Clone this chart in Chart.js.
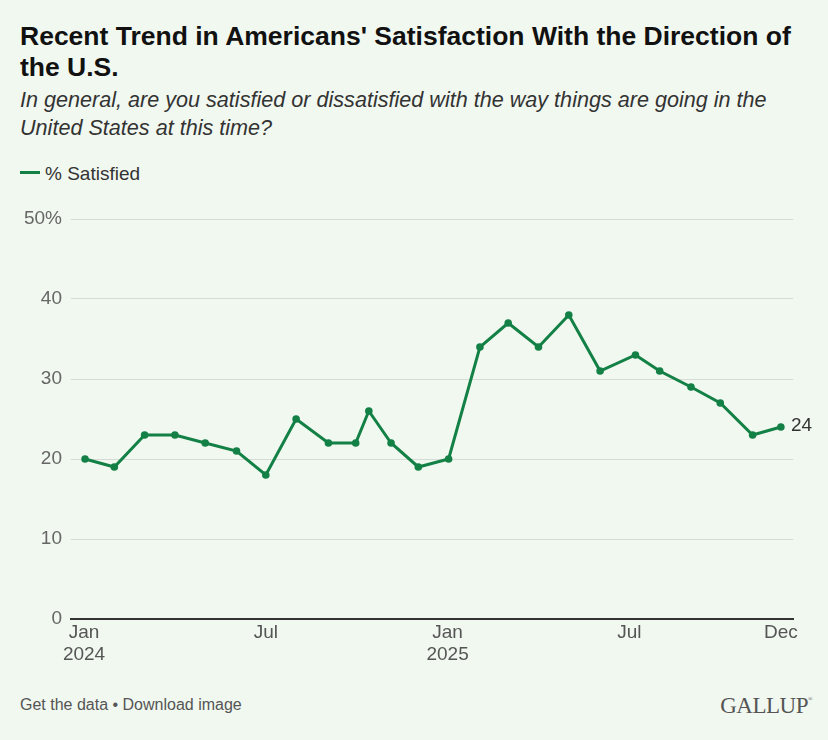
<!DOCTYPE html>
<html>
<head>
<meta charset="utf-8">
<script src="https://cdn.jsdelivr.net/npm/chart.js@4"></script>
<style>
  body { margin: 0; background: #f1f8f0; font-family: "Liberation Sans", Arial, sans-serif; }
  #page { position: relative; width: 828px; height: 740px; overflow: hidden; }
  #title { position: absolute; left: 20px; top: 21px; width: 805px; font-weight: bold; font-size: 26.5px; line-height: 31px; color: #111; }
  #subtitle { position: absolute; left: 20px; top: 86px; width: 805px; font-style: italic; font-size: 21.6px; line-height: 28px; color: #333; white-space: nowrap; }
  #legend { position: absolute; left: 20px; top: 163px; font-size: 19px; line-height: 22px; color: #333; }
  #legend span.swatch { display: inline-block; width: 20px; height: 3px; background: #138045; vertical-align: middle; margin-right: 5px; position: relative; top: -2px; }
  #chartBox { position: absolute; left: 0; top: 190px; width: 828px; height: 500px; }
  #footer { position: absolute; left: 20px; top: 696px; font-size: 16px; color: #555; }
  #logo { position: absolute; right: 16px; top: 693px; font-family: "Liberation Serif", "DejaVu Serif", serif; font-size: 23px; color: #555; letter-spacing: -0.5px; }
  #logo sup { font-size: 6px; vertical-align: top; position: relative; top: 3px; }
</style>
</head>
<body>
<div id="page">
  <div id="title">Recent Trend in Americans' Satisfaction With the Direction of the U.S.</div>
  <div id="subtitle">In general, are you satisfied or dissatisfied with the way things are going in the<br>United States at this time?</div>
  <div id="legend"><span class="swatch"></span>% Satisfied</div>
  <div id="chartBox"><canvas id="trendChart"></canvas></div>
  <div id="footer">Get the data &bull; Download image</div>
  <div id="logo">GALLUP<sup>&reg;</sup></div>
</div>
<script>
// poll dates (start of field period) and % satisfied
const pollDates = [
  '2024-01-02', '2024-02-01', '2024-03-01', '2024-04-01', '2024-05-01', '2024-06-02',
  '2024-07-01', '2024-08-01', '2024-09-03', '2024-09-30', '2024-10-13', '2024-11-05',
  '2024-12-02', '2025-01-02', '2025-02-03', '2025-03-01', '2025-04-01', '2025-05-01',
  '2025-06-02', '2025-07-07', '2025-08-01', '2025-09-02', '2025-10-01', '2025-11-03',
  '2025-12-01'
];
const satisfied = [20, 19, 23, 23, 22, 21, 18, 25, 22, 22, 26, 22, 19, 20, 34, 37, 34, 38, 31, 33, 31, 29, 27, 23, 24];

const tickMonths = [0, 6, 12, 18, 23];
const tickLabels = [['Jan', '2024'], ['Jul'], ['Jan', '2025'], ['Jul'], ['Dec']];
const yTicks = [0, 10, 20, 30, 40, 50];

const green = '#138045';

// months since Jan 2024
function monthOffset(d) {
    var p = d.split('-').map(Number);
    return (p[0] - 2024) * 12 + (p[1] - 1) + (p[2] - 1) / 30;
}

var points = pollDates.map((d, i) => ({ x: monthOffset(d), y: satisfied[i] }));

const endLabel = {
    id: 'endLabel',
    afterDatasetsDraw(chart) {
        var meta = chart.getDatasetMeta(0);
        var last = meta.data[meta.data.length - 1];
        var ctx = chart.ctx;
        ctx.save();
        ctx.font = '19px "Liberation Sans", Arial, sans-serif';
        ctx.fillStyle = '#333';
        ctx.textBaseline = 'middle';
        ctx.fillText(String(satisfied[satisfied.length - 1]), last.x + 10, last.y - 1);
        ctx.restore();
    }
};

new Chart(document.getElementById('trendChart'), {
    type: 'line',
    data: {
        datasets: [{
            label: '% Satisfied',
            data: points,
            borderColor: green,
            backgroundColor: green,
            borderWidth: 3,
            pointRadius: 3.8,
            pointHoverRadius: 3.8,
            pointBackgroundColor: green,
            pointBorderWidth: 0,
            tension: 0
        }]
    },
    options: {
        responsive: true,
        maintainAspectRatio: false,
        animation: false,
        layout: { padding: { top: 29, right: 35, left: 0, bottom: 0 } },
        plugins: { legend: { display: false }, tooltip: { enabled: false } },
        scales: {
            x: {
                type: 'linear',
                min: -0.43,
                max: 23.4,
                afterBuildTicks: (s) => { s.ticks = tickMonths.map(v => ({ value: v })); },
                afterFit: (s) => { s.height = 71; },
                grid: { display: false, drawTicks: false },
                border: { display: true, color: '#333', width: 2 },
                ticks: {
                    autoSkip: false,
                    maxRotation: 0,
                    padding: 3,
                    color: '#555',
                    font: { family: '"Liberation Sans", Arial, sans-serif', size: 19, lineHeight: 1.15 },
                    callback: (v) => tickLabels[tickMonths.indexOf(v)]
                }
            },
            y: {
                min: 0,
                max: 50,
                afterBuildTicks: (s) => { s.ticks = yTicks.map(v => ({ value: v })); },
                afterFit: (s) => { s.width = 71; },
                grid: { color: '#d6dcd5', lineWidth: 1, drawTicks: false },
                border: { display: false },
                ticks: {
                    padding: 9,
                    color: '#666',
                    font: { family: '"Liberation Sans", Arial, sans-serif', size: 19 },
                    callback: (v) => v === 50 ? '50%' : String(v)
                }
            }
        }
    },
    plugins: [endLabel]
});
</script>
</body>
</html>
